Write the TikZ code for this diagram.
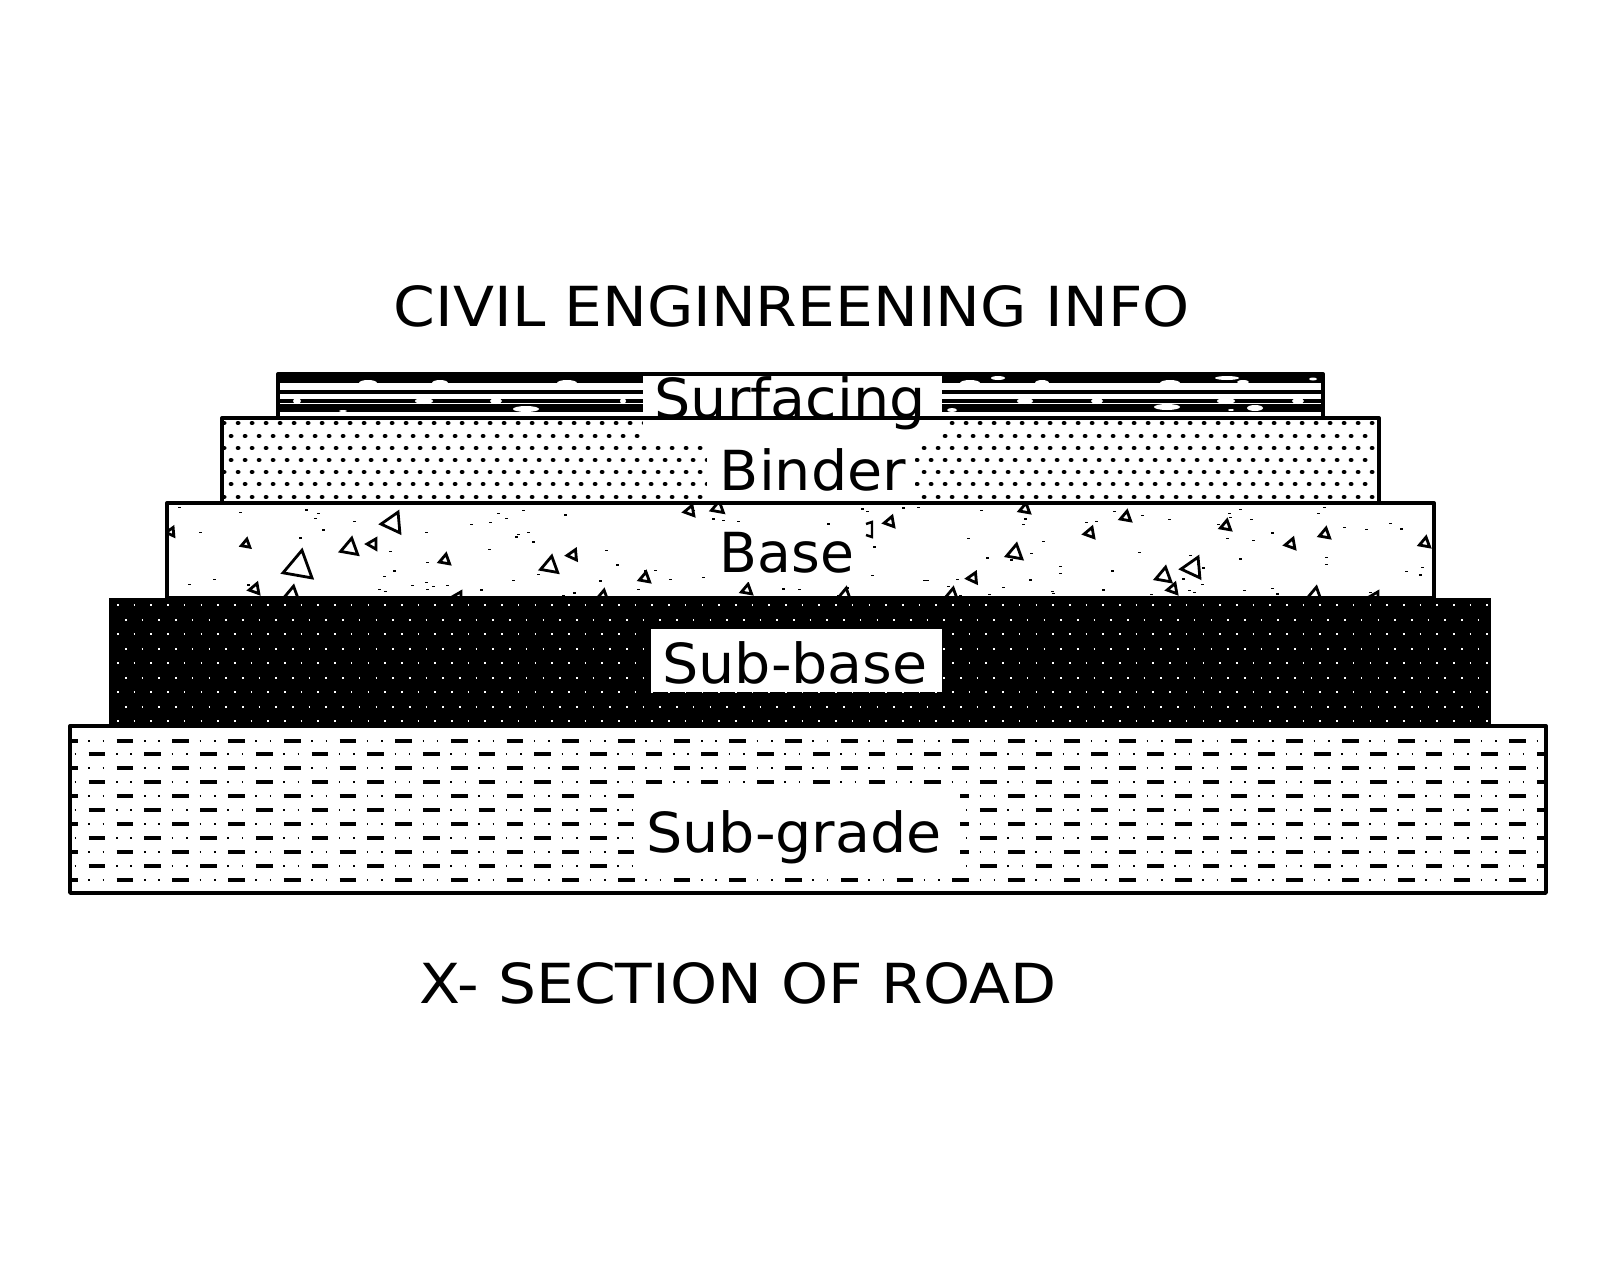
\documentclass[tikz,border=0pt]{standalone}
\usepackage{fontspec}
\setmainfont{DejaVu Sans}
\newfontfamily\lowfont{DejaVu Sans}[FakeStretch=1.035]
\newfontfamily\capfont{DejaVu Sans}[FakeStretch=1.085]
\tikzset{
  layer/.style={draw,line width=1.7pt,line join=round},
  patch/.style={fill=white},
  lbl/.style={font=\lowfont\fontsize{27.6}{30}\selectfont,anchor=base,inner sep=0pt},
  ttl/.style={font=\capfont\fontsize{27.6}{30}\selectfont,anchor=base,inner sep=0pt},
  gravel/.style={line width=1.4pt,line join=miter},
  binderdots/.style={line width=2.3pt,line cap=round,dash pattern=on .1pt off 6.9pt},
  basedots/.style={white,line width=.8pt,dash pattern=on .8pt off 7.55pt},
  gradedash/.style={line width=1.7pt,dash pattern=on 8.35pt off 19.5pt},
  gradedots/.style={line width=.7pt,dash pattern=on .75pt off 6.45pt on .75pt off 19.9pt}
}
\begin{document}
\begin{tikzpicture}[x=0.5pt,y=-0.5pt]
    \useasboundingbox (0,0) rectangle (1600,1280);
    \fill[white] (0,0) rectangle (1600,1280);
    \begin{scope}
      \clip (167,503) rectangle (1434,598);
      \pgfmathsetseed{17}
      \foreach \i in {1,...,130} {
        \pgfmathsetmacro\xa{167+1267*rnd}
        \pgfmathsetmacro\ya{505+93*rnd}
        \fill (\xa,\ya) rectangle +(3,1.3);
      }
      \foreach \x/\y/\r/\a in {299/567/17/-80,350/548/10/-80,373/544/6/180,393/523/12/175,
        445/560/6/-80,550/566/10/-80,573/555/6/175,645/578/6/-80,690/511/6/170,718/508/7/-80,
        890/522/6/170,845/595/7/-80,952/595/7/-80,973/578/6/175,292/595/9/-80,458/597/6/180,
        603/596/6/-80,255/589/6/170,171/532/5/175,246/544/5/-80,1025/509/6/-80,1126/517/6/-80,
        1226/526/6/-80,1090/533/6/170,1015/553/9/-80,1291/544/6/170,1325/534/6/-80,1425/543/6/-80,
        1193/568/12/175,1164/576/9/-80,1173/589/6/170,1315/595/8/-80,1375/597/6/180,747/590/6/-80} {
        \draw[gravel] (\x,\y) +(\a:\r) -- +({\a+120}:\r) -- +({\a+240}:\r) -- cycle;
      }
      \draw[line width=1.2pt] (866,524) -- (872,522) -- (872,537) -- (866,535);
    \end{scope}
    \foreach \y/\xb in {423/224,436/231,448/224,460/231,472/224,484/231,497/224} {
      \draw[binderdots] (\xb,\y) -- (1378,\y);
    }
    \draw[line width=4.5pt] (278,378.5) -- (1323,378.5);
    \draw[line width=2pt] (278,392) -- (1323,392);
    \draw[line width=2pt] (278,401) -- (1323,401);
    \draw[line width=4pt] (278,408) -- (1323,408);
    \foreach \x/\y/\w/\h in {368/383/9/3,440/383/8/3,567/383/10/3,970/383/10/3,998/378/7/2,1042/383/7/3,
        1170/383/10/3,1227/378/12/2,1243/382/6/2,1313/379/4/1.5,
        297/401/4/3,424/401/9/3,496/401/6/3,623/401/3/3,1025/401/8/3,1097/401/6/3,1226/401/9/3,1298/401/6/3,
        343/411/4/1,526/409/13/3,1167/407/13/3,1255/408/8/3,1231/410/3/1,952/410/5/2} {
      \fill[white] (\x,\y) ellipse ({\w} and {\h});
    }
    \fill (109,598) rectangle (1491,726);
    \foreach \y/\xb in {605/117,620/125,634/117,649/125,663/117,678/125,692/117,707/125,721/117} {
      \draw[basedots] (\xb,\y) -- (1490,\y);
    }
    \begin{scope}
      \clip (70,726) rectangle (1546,893);
      \foreach \y/\xb in {726/33,741/61,754/33,768/61,782/33,796/61,810/33,824/61,838/33,852/61,866/33,880/61} {
        \draw[gradedash] (\xb,\y) -- (1546,\y);
        \draw[gradedots] (\xb+27.3,\y) -- (1546,\y);
      }
    \end{scope}
    \fill[patch] (643,376) rectangle (942,438);
    \fill[patch] (707,438) rectangle (915,501);
    \fill[patch] (715,525) rectangle (860,582);
    \fill[patch] (651,629) rectangle (942,692);
    \fill[patch] (634,789) rectangle (960,873);
    \draw[layer] (278,374) rectangle (1323,418);
    \draw[layer] (222,418) rectangle (1379,503);
    \draw[layer] (167,503) rectangle (1434,598);
    \draw[layer] (70,726) rectangle (1546,893);
    \node[ttl] (title) at (792,326) {CIVIL ENGINREENING INFO};
    \node[lbl] (surfacing) at (790,418) {Surfacing};
    \node[lbl] (binder) at (813,490) {Binder};
    \node[lbl,font=\fontsize{27.6}{30}\selectfont] (base) at (787,572) {Base};
    \node[lbl] (subbase) at (795,683) {Sub-base};
    \node[lbl] (subgrade) at (794,852) {Sub-grade};
    \node[ttl] (caption) at (738,1003) {X- SECTION OF ROAD};
\end{tikzpicture}
\end{document}
